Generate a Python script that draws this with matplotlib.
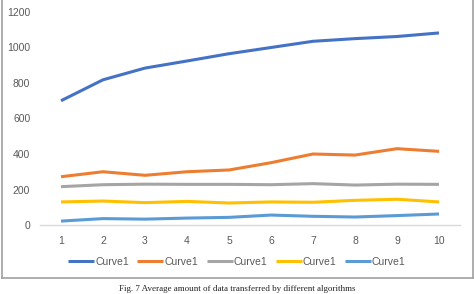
import matplotlib
matplotlib.use("Agg")
import matplotlib.pyplot as plt
from matplotlib.lines import Line2D

# --- data ---
x_labels = ["1", "2", "3", "4", "5", "6", "7", "8", "9", "10"]
curve_a = [700, 818, 884, 924, 965, 1000, 1035, 1050, 1062, 1082]
curve_b = [272, 300, 280, 300, 310, 351, 400, 394, 430, 415]
curve_c = [216, 227, 230, 229, 229, 227, 233, 225, 230, 229]
curve_d = [130, 135, 126, 133, 124, 130, 128, 139, 145, 130]
curve_e = [22, 36, 33, 39, 43, 56, 49, 45, 53, 62]
series_names = ["Curve1", "Curve1", "Curve1", "Curve1", "Curve1"]
y_ticks = [0, 200, 400, 600, 800, 1000, 1200]
caption = "Fig. 7 Average amount of data transferred by different algorithms"

COLORS = ["#4472C4", "#ED7D31", "#A5A5A5", "#FFC000", "#5B9BD5"]
W, H = 474, 294

plt.rcParams["font.family"] = ["Liberation Sans", "DejaVu Sans"]

fig = plt.figure(figsize=(W / 100, H / 100), dpi=100)
ax = fig.add_axes([40 / W, (H - 225) / H, 420 / W, 213 / H])

xs = list(range(1, len(x_labels) + 1))
for vals, col, name in zip([curve_a, curve_b, curve_c, curve_d, curve_e], COLORS, series_names):
    ax.plot(xs, vals, color=col, lw=2.2, label=name, solid_capstyle="butt")

ax.set_xlim(0.5, len(x_labels) + 0.5)
ax.set_ylim(0, 1200)
ax.set_xticks(xs)
ax.set_xticklabels(x_labels)
ax.set_yticks(y_ticks)
ax.tick_params(axis="both", length=0, labelsize=7.5, labelcolor="#595959")
ax.tick_params(axis="y", pad=7)
ax.tick_params(axis="x", pad=8)
for s in ["top", "right", "left"]:
    ax.spines[s].set_visible(False)
ax.spines["bottom"].set_color("#D9D9D9")
ax.spines["bottom"].set_linewidth(1)

fig.legend(loc="center", bbox_to_anchor=(237 / W, (H - 262) / H), ncol=5,
           frameon=False, fontsize=7.5, handlelength=2.5, handletextpad=0.1,
           columnspacing=0.8, labelcolor="#595959")

# outer chart frame (left, bottom, right edges)
frame_col = "#A0A0A0"
fig.add_artist(Line2D([1.5 / W, 1.5 / W], [(H - 278) / H, 1.0], transform=fig.transFigure, color=frame_col, lw=1.2))
fig.add_artist(Line2D([472.5 / W, 472.5 / W], [(H - 278) / H, 1.0], transform=fig.transFigure, color=frame_col, lw=1.2))
fig.add_artist(Line2D([1.5 / W, 472.5 / W], [(H - 278) / H, (H - 278) / H], transform=fig.transFigure, color=frame_col, lw=1.2))

fig.text(237 / W, (H - 285) / H, caption, ha="center", va="top",
         family="Liberation Serif", fontsize=6.5, color="#222222")

fig.savefig("out.png", dpi=100)
